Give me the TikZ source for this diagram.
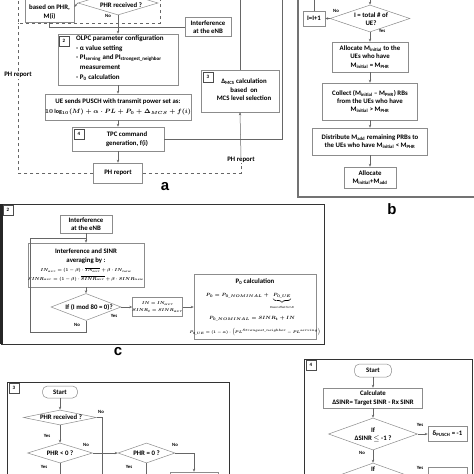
\documentclass[tikz,border=0pt]{standalone}
\usepackage{fontspec}
\usepackage{graphicx}
\setmainfont{Carlito}
\newfontfamily\labfont{Liberation Sans}
\usetikzlibrary{arrows.meta,shapes.geometric,calc}
\newcommand{\fsz}{\fontsize{6.8}{8.4}\selectfont\bfseries}
\newcommand{\ynf}{\fontsize{4.8}{5.5}\selectfont\bfseries}
\begin{document}
\begin{tikzpicture}[x=1pt,y=-1pt,
  box/.style={draw=black!45, line width=0.5pt, fill=white, inner sep=0pt, align=center, font=\fsz},
  txt/.style={inner sep=0pt, align=center, font=\fsz},
  yn/.style={inner sep=0pt, font=\ynf},
  numbox/.style={draw=black!70, line width=0.5pt, fill=white, minimum size=10pt, inner sep=0pt, font=\fontsize{5}{5}\selectfont\bfseries},
  ln/.style={draw=black!60, line width=0.5pt},
  arr/.style={ln, -{Stealth[length=3pt,width=2.4pt]}},
  lab/.style={inner sep=0pt, font=\labfont\fontsize{15}{15}\selectfont\bfseries},
  framed/.style={draw=black!80, line width=0.8pt}
]
\useasboundingbox (0,0) rectangle (474,474);
\clip (0,0) rectangle (474,474);
\fill[white] (0,0) rectangle (474,474);

% ================= panel a =================
\draw[ln, dashed, line width=0.7pt] (18,-5) -- (18,23) -- (160,23) -- (160,-5);
\node[box, minimum width=49pt, minimum height=30pt] (phrbox) at (49.5,7) {};
\node[txt] at (49.5,12) {based on PHR,\\M(i)};
\node[box, diamond, minimum width=80pt, minimum height=24pt] (dm1) at (118,3) {};
\node[txt] at (121,5) {PHR received ?};
\node[yn] at (108,15.5) {No};
\draw[arr] (dm1.west) -- (phrbox.east);
\coordinate (jn) at (118,27);
\node[box, minimum width=46pt, minimum height=19pt] (ia) at (208,27) {Interference\\at the eNB};
\draw[ln] (phrbox.south) |- (jn);
\draw[ln] (ia.west) -- (jn);

\node[box, minimum width=120pt, minimum height=51pt] (olpc) at (118,59.5) {};
\node[numbox] at (64,41) {2};
\node[txt, anchor=north west, align=left, font=\fontsize{7}{9.6}\selectfont\bfseries] at (76,35.5)
  {OLPC parameter configuration\\- α value setting\\- PI\textsubscript{serving} and PI\textsubscript{strongest\_neighbor}\\\phantom{- }measurement\\- P\textsubscript{0} calculation};
\draw[arr] (dm1.south) -- (olpc.north);

\node[box, minimum width=146pt, minimum height=26pt] (ue) at (118,107)
  {UE sends PUSCH with transmit power set as:\\[1pt] \scalebox{0.88}{\boldmath$10\log_{10}(M)+\alpha\cdot PL+P_0+\Delta_{MCS}+f(i)$}};
\node[box, minimum width=92pt, minimum height=24pt] (tpc) at (118,139) {};
\node[numbox] at (79,134) {4};
\node[txt] at (127,139) {TPC command\\generation, f(i)};
\node[box, minimum width=49pt, minimum height=20pt] (ph) at (118,173) {PH report};
\draw[arr] (olpc.south) -- (ue.north);
\draw[arr] (ue.south) -- (tpc.north);
\draw[arr] (tpc.south) -- (ph.north);

\node[box, minimum width=78pt, minimum height=42pt] (mcs) at (240,91) {};
\node[numbox] at (208,77) {3};
\node[txt] at (244,90) {Δ\textsubscript{MCS} calculation\\based\ \ on\\MCS level selection};
\coordinate (mcsup) at (240,-3);
\draw[ln] (mcs.north) -- (mcsup);
\coordinate (fbtop) at (282,-3);
\draw[ln] (tpc.east) -| (fbtop);
\node[txt] (phr2) at (241,160) {PH report};
\draw[ln, dashed] (ph.east) -| (phr2.south);
\draw[arr] (phr2.north) -- (mcs.south);
\node[txt, fill=white, inner sep=1pt] (phr1) at (18,75) {PH report};
\coordinate (ltop) at (18,23);
\draw[ln, dashed, line width=0.7pt] (ph.west) -| (phr1.south);
\draw[ln, dashed, line width=0.7pt] (phr1.north) -- (ltop);
\node[lab] at (165,187) {a};

% ================= panel b =================
\draw[draw=black!55, line width=1.2pt] (298,-3) -- (298,197) -- (477,197);
\node[box, minimum width=22pt, minimum height=15pt] (inc) at (314,18.5) {I=I+1};
\coordinate (inctop) at (314,-3);
\draw[ln] (inc.north) -- (inctop);
\node[box, diamond, minimum width=80pt, minimum height=27pt] (d2) at (370,18.5) {};
\node[txt] at (371,19) {I = total \# of\\UE?};
\coordinate (d2top) at (370,-3);
\draw[arr] (d2top) -- (d2.north);
\draw[arr] (d2.west) -- (inc.east);
\node[yn] at (336,11) {No};
\node[yn] at (382,31) {Yes};
\node[box, minimum width=76pt, minimum height=30pt] (al1) at (370,57)
  {Allocate M\textsubscript{initial} to the\\UEs who have\\M\textsubscript{initial} = M\textsubscript{PHR}};
\node[box, minimum width=95pt, minimum height=37pt] (col) at (370,101.5)
  {Collect (M\textsubscript{initial} -- M\textsubscript{PHR}) RBs\\from the UEs who have\\M\textsubscript{initial} > M\textsubscript{PHR}};
\node[box, minimum width=115pt, minimum height=27pt] (dis) at (370,141.5)
  {Distribute M\textsubscript{add} remaining PRBs to\\the UEs who have M\textsubscript{initial} < M\textsubscript{PHR}};
\node[box, minimum width=52pt, minimum height=21pt] (al2) at (370,177.5)
  {Allocate\\M\textsubscript{initial}+M\textsubscript{add}};
\draw[arr] (d2.south) -- (al1.north);
\draw[arr] (al1.south) -- (col.north);
\draw[arr] (col.south) -- (dis.north);
\draw[arr] (dis.south) -- (al2.north);
\node[lab] at (392,209) {b};

% ================= panel c =================
\draw[framed] (1.5,204) rectangle (324,344);
\draw[draw=black!85, line width=3pt] (1.5,204) -- (1.5,344);
\node[numbox] at (8,210) {2};
\node[box, minimum width=52pt, minimum height=18pt] (ib) at (86,224) {Interference\\at the eNB};
\node[box, minimum width=102pt, minimum height=44pt, font=\fontsize{6.8}{8.6}\selectfont\bfseries] (avg) at (86,265)
  {Interference and SINR\\averaging by :\\[1pt]
   \scalebox{0.62}{\boldmath$IN_{avr}=(1-\beta)\cdot\overline{IN_{avr}}+\beta\cdot IN_{new}$}\\
   \scalebox{0.62}{\boldmath$SINR_{avr}=(1-\beta)\cdot\overline{SINR_{avr}}+\beta\cdot SINR_{new}$}};
\node[box, diamond, minimum width=70pt, minimum height=27pt] (d3) at (86,307) {};
\node[txt] at (89,307) {If (I mod 80 = 0)?};
\node[box, minimum width=49pt, minimum height=19pt, font=\fontsize{5.6}{7}\selectfont] (inb) at (157.5,307)
  {\scalebox{0.68}{\boldmath$IN=IN_{avr}$}\\\scalebox{0.68}{\boldmath$SINR_t=SINR_{avr}$}};
\node[box, minimum width=122pt, minimum height=65pt] (p0) at (255,307) {};
\node[txt] at (255,282) {P\textsubscript{0} calculation};
\node[txt, font=\fontsize{5.6}{6.5}\selectfont] at (250,301)
  {\scalebox{0.76}{\boldmath$P_0=P_{0\_NOMINAL}+\underbrace{P_{0\_UE}}_{\mbox{\fontsize{4}{4.5}\selectfont Power offset for UE}}$}};
\node[txt, font=\fontsize{5.6}{6.5}\selectfont] at (252,319) {\scalebox{0.76}{\boldmath$P_{0\_NOMINAL}=SINR_t+IN$}};
\node[txt, font=\fontsize{5.6}{6.5}\selectfont] at (255,332.5)
  {\scalebox{0.63}{\boldmath$P_{0\_UE}=(1-\alpha)\cdot\left(PL^{Strongest\_neighbor}-PL^{serving}\right)$}};
\coordinate (lp1) at (86,332);
\coordinate (lp2) at (30,332);
\coordinate (lp3) at (30,238);
\coordinate (lp4) at (86,238);
\draw[ln] (d3.south) -- (lp1) -- (lp2) -- (lp3) -- (lp4);
\draw[arr] (ib.south) -- (avg.north);
\draw[arr] (avg.south) -- (d3.north);
\draw[arr] (d3.east) -- (inb.west);
\draw[arr] (inb.east) -- (p0.west);
\node[yn] at (114,316) {Yes};
\node[yn] at (77,325) {No};
\node[lab] at (118,352) {c};

% ================= panel 3 =================
\draw[framed] (7,382) rectangle (229,480);
\node[numbox] at (14,388) {3};
\node[box, rounded corners=5pt, minimum width=35pt, minimum height=12pt] (s3) at (60,392) {Start};
\node[box, diamond, minimum width=73pt, minimum height=15pt] (d4) at (60,417.5) {};
\node[txt] at (61,417.5) {PHR received ?};
\node[box, diamond, minimum width=65pt, minimum height=20pt] (d5) at (60,453) {};
\node[txt] at (60,453) {PHR < 0 ?};
\node[box, diamond, minimum width=57pt, minimum height=20pt] (d6) at (146.5,453) {};
\node[txt] at (146.5,453) {PHR = 0 ?};
\node[box, minimum width=48pt, minimum height=18pt] (b3) at (194,481) {};
\draw[arr] (s3.south) -- (d4.north);
\draw[arr] (d4.south) -- (d5.north);
\draw[arr] (d5.east) -- (d6.west);
\coordinate (c3a) at (102,480);
\coordinate (c3b) at (60,480);
\coordinate (c3c) at (146.5,480);
\draw[ln] (d4.east) -| (c3a);
\draw[ln] (d5.south) -- (c3b);
\draw[ln] (d6.south) -- (c3c);
\draw[arr] (d6.east) -| (b3.north);
\node[yn] at (101,412) {No};
\node[yn] at (47,436) {Yes};
\node[yn] at (86,445) {No};
\node[yn] at (44,467) {Yes};
\node[yn] at (175,445) {No};
\node[yn] at (129,467) {Yes};

% ================= panel 4 =================
\draw[framed] (304,359) rectangle (472,480);
\node[numbox] at (311,365) {4};
\node[box, rounded corners=5pt, minimum width=37pt, minimum height=13pt] (s4) at (373,370.5) {Start};
\node[box, minimum width=99pt, minimum height=20pt] (calc) at (373,398) {Calculate\\ΔSINR= Target SINR - Rx SINR};
\node[box, diamond, minimum width=89pt, minimum height=32pt] (d7) at (373,434) {};
\node[txt] at (373,435) {If\\ΔSINR $\leq$ -1 ?};
\node[box, minimum width=39pt, minimum height=15pt] (dp) at (447.5,434) {δ\textsubscript{PUSCH} = -1};
\node[box, diamond, minimum width=89pt, minimum height=32pt] (d8) at (373,479) {};
\node[txt] at (373,469) {If};
\node[box, minimum width=39pt, minimum height=24pt] (dp2) at (447.5,479) {};
\draw[arr] (s4.south) -- (calc.north);
\draw[arr] (calc.south) -- (d7.north);
\draw[arr] (d7.east) -- (dp.west);
\draw[arr] (d7.south) -- (d8.north);
\draw[arr] (d8.east) -- (dp2.west);
\node[yn] at (420,425) {Yes};
\node[yn] at (362,453) {No};
\node[yn] at (420,468) {Yes};
\end{tikzpicture}
\end{document}
